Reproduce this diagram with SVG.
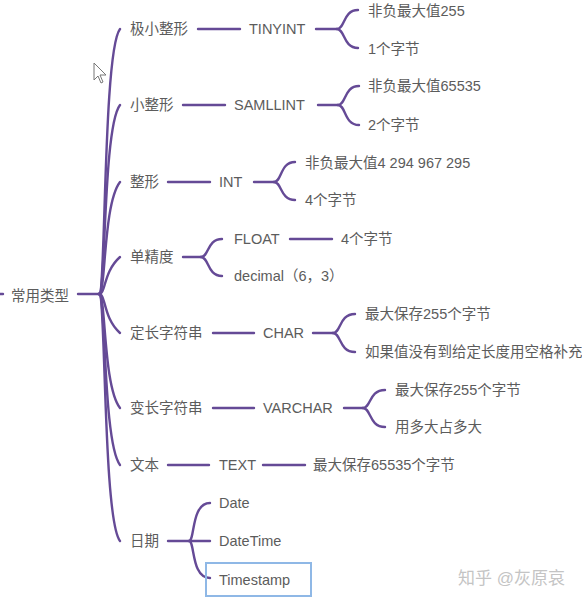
<svg xmlns="http://www.w3.org/2000/svg" width="582" height="602" viewBox="0 0 582 602">
<style>
text{font-family:"Liberation Sans","Noto Sans CJK SC",sans-serif;font-size:14.5px;fill:#5c5c5c;dominant-baseline:central}
.c path,.c line{fill:none;stroke:#654a96;stroke-width:2.4;stroke-linecap:round}
.wm{fill:#c4c4c4;font-size:17px}
</style>
<rect width="582" height="602" fill="#ffffff"/>
<g class="c" id="connectors">
<line x1="0" y1="294" x2="3" y2="294" stroke="#666"/>
<line x1="78" y1="294" x2="99" y2="294"/>
<path d="M99,294 C106,294 103,51 120,29"/>
<path d="M99,294 C106,294 103,127 120,105"/>
<path d="M99,294 C106,294 103,204 120,182"/>
<path d="M99,294 C106,294 103,272 120,257"/>
<path d="M99,294 C106,294 103,318 120,333"/>
<path d="M99,294 C106,294 103,386 120,408"/>
<path d="M99,294 C106,294 103,443 120,465"/>
<path d="M99,294 C106,294 103,519 120,541"/>
<line x1="198" y1="29" x2="240" y2="29"/>
<line x1="316" y1="29" x2="337" y2="29"/>
<path d="M337,29 C345,29 343,10 358,10"/>
<path d="M337,29 C345,29 343,48 358,48"/>
<line x1="183" y1="105" x2="225" y2="105"/>
<line x1="318" y1="105" x2="338" y2="105"/>
<path d="M338,105 C346,105 344,86 359,86"/>
<path d="M338,105 C346,105 344,125 359,125"/>
<line x1="168" y1="182" x2="210" y2="182"/>
<line x1="254" y1="182" x2="274" y2="182"/>
<path d="M274,182 C282,182 280,162 295,162"/>
<path d="M274,182 C282,182 280,200 295,200"/>
<line x1="183" y1="257" x2="201" y2="257"/>
<path d="M201,257 C209,257 207,239 222,239"/>
<path d="M201,257 C209,257 207,276 222,276"/>
<line x1="290" y1="239" x2="332" y2="239"/>
<line x1="213" y1="333" x2="254" y2="333"/>
<line x1="313" y1="333" x2="333" y2="333"/>
<path d="M333,333 C341,333 339,314 355,314"/>
<path d="M333,333 C341,333 339,352 355,352"/>
<line x1="213" y1="408" x2="254" y2="408"/>
<line x1="344" y1="408" x2="363" y2="408"/>
<path d="M363,408 C371,408 369,390 385,390"/>
<path d="M363,408 C371,408 369,427 385,427"/>
<line x1="168" y1="465" x2="209" y2="465"/>
<line x1="263" y1="465" x2="305" y2="465"/>
<line x1="168" y1="541" x2="210" y2="541"/>
<path d="M189,541 C195,541 191,503 210,503"/>
<path d="M189,541 C195,541 191,578 210,578"/>
</g>
<g id="root"><text x="11" y="296">常用类型</text></g>
<g id="n-jixiao"><text x="130" y="29">极小整形</text></g>
<g id="n-tinyint"><text x="249" y="29">TINYINT</text></g>
<g id="n-t1"><text x="368" y="11">非负最大值255</text></g>
<g id="n-t2"><text x="368" y="49">1个字节</text></g>
<g id="n-xiao"><text x="130" y="105">小整形</text></g>
<g id="n-smallint"><text x="234" y="105">SAMLLINT</text></g>
<g id="n-s1"><text x="368" y="86">非负最大值65535</text></g>
<g id="n-s2"><text x="368" y="125">2个字节</text></g>
<g id="n-zheng"><text x="130" y="182">整形</text></g>
<g id="n-int"><text x="219" y="182">INT</text></g>
<g id="n-i1"><text x="305" y="163">非负最大值4 294 967 295</text></g>
<g id="n-i2"><text x="305" y="200">4个字节</text></g>
<g id="n-dan"><text x="130" y="257">单精度</text></g>
<g id="n-float"><text x="234" y="239">FLOAT</text></g>
<g id="n-f1"><text x="341" y="239">4个字节</text></g>
<g id="n-decimal"><text x="234" y="276">decimal（6，3）</text></g>
<g id="n-ding"><text x="130" y="333">定长字符串</text></g>
<g id="n-char"><text x="263" y="333">CHAR</text></g>
<g id="n-c1"><text x="365" y="314">最大保存255个字节</text></g>
<g id="n-c2"><text x="365" y="352">如果值没有到给定长度用空格补充</text></g>
<g id="n-bian"><text x="130" y="408">变长字符串</text></g>
<g id="n-varchar"><text x="263" y="408">VARCHAR</text></g>
<g id="n-v1"><text x="395" y="390">最大保存255个字节</text></g>
<g id="n-v2"><text x="395" y="427">用多大占多大</text></g>
<g id="n-wenben"><text x="130" y="465">文本</text></g>
<g id="n-text"><text x="219" y="465">TEXT</text></g>
<g id="n-tx1"><text x="313" y="465">最大保存65535个字节</text></g>
<g id="n-riqi"><text x="130" y="541">日期</text></g>
<g id="n-date"><text x="219" y="503">Date</text></g>
<g id="n-datetime"><text x="219" y="541">DateTime</text></g>
<g id="n-timestamp"><rect x="206" y="563" width="105" height="33" fill="none" stroke="#8fb8e6" stroke-width="2"/><text x="219" y="580">Timestamp</text></g>
<g id="cursor"><path d="M94,63 L94,80 L98,76 L101,83 L103,82 L100,75 L106,75 Z" fill="#fff" stroke="#777" stroke-width="1"/></g>
<g id="watermark"><text class="wm" x="458" y="578">知乎 @灰原哀</text></g>
</svg>
